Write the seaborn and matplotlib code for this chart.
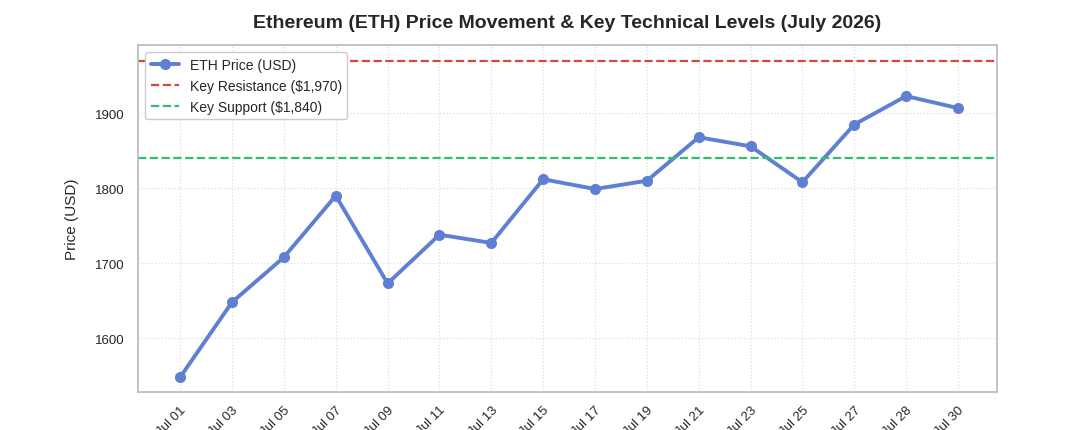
import matplotlib
matplotlib.use("Agg")
import matplotlib.pyplot as plt
import seaborn as sns
import pandas as pd

dates = ["Jul 01", "Jul 03", "Jul 05", "Jul 07", "Jul 09", "Jul 11", "Jul 13", "Jul 15",
         "Jul 17", "Jul 19", "Jul 21", "Jul 23", "Jul 25", "Jul 27", "Jul 28", "Jul 30"]
prices = [1548, 1648, 1708, 1790, 1673, 1738, 1727, 1812,
          1799, 1810, 1868, 1856, 1808, 1885, 1923, 1907]
resistance = 1970
support = 1840

sns.set_theme(style="whitegrid")
plt.rcParams['font.family'] = ['Liberation Sans', 'DejaVu Sans']

df = pd.DataFrame({"date": dates, "price": prices})
df["pos"] = range(len(df))

fig = plt.figure(figsize=(10.8, 4.31), dpi=100)
ax = fig.add_axes([0.128, 0.088, 0.795, 0.805])
sns.lineplot(data=df, x="pos", y="price", ax=ax, color="#5f7fd3", linewidth=2.8,
             marker="o", markersize=8, markeredgewidth=0, label="ETH Price (USD)")
ax.axhline(resistance, color="#d04a3a", linestyle="--", linewidth=1.6, label="Key Resistance ($1,970)")
ax.axhline(support, color="#2fbf71", linestyle="--", linewidth=1.6, label="Key Support ($1,840)")

ax.set_xlim(-0.81, len(dates) - 0.25)
ax.set_ylim(1528, 1991)
ax.set_yticks([1600, 1700, 1800, 1900])
ax.set_xticks(df["pos"])
ax.set_xticklabels(dates, rotation=45, fontsize=9.5, ha="right", rotation_mode="anchor")
ax.tick_params(axis="y", labelsize=9.5)
ax.tick_params(axis="x", pad=2)
ax.set_xlabel("")
ax.set_ylabel("Price (USD)", fontsize=11, labelpad=12)
ax.grid(True, linestyle=":", color="#dddddd", linewidth=0.9)
for s in ax.spines.values():
    s.set_color("#bbbbbb")
ax.set_title("Ethereum (ETH) Price Movement & Key Technical Levels (July 2026)",
             fontsize=14, fontweight="bold", pad=13)
ax.legend(loc="upper left", fontsize=10, frameon=True, framealpha=1, edgecolor="#cccccc")
fig.savefig("out.png", dpi=100)
